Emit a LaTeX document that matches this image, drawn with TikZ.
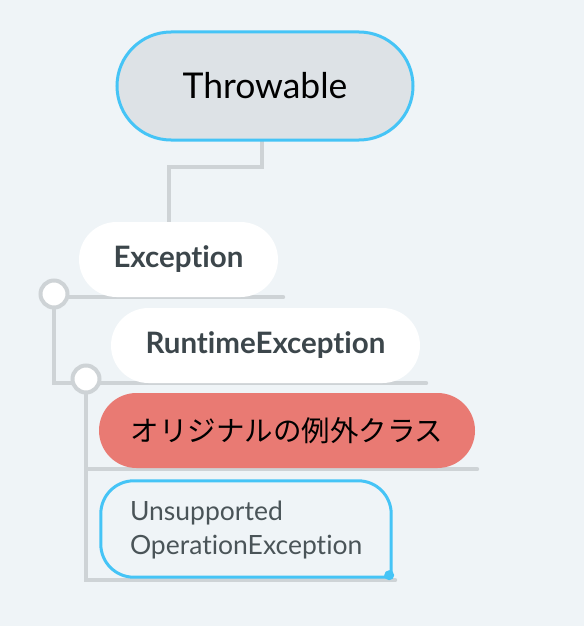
\documentclass[tikz,border=0pt]{standalone}
\usepackage{fontspec}
\setmainfont{Lato}[Ligatures=NoCommon]
\newfontfamily\jpfont{Noto Sans CJK JP}
\usetikzlibrary{positioning,backgrounds}
\definecolor{bgcol}{HTML}{EFF4F7}
\definecolor{linecol}{HTML}{CED3D6}
\definecolor{bluecol}{HTML}{45C4F6}
\definecolor{rootfill}{HTML}{DDE2E6}
\definecolor{redfill}{HTML}{E97A73}
\definecolor{textcol}{HTML}{3C464B}
\definecolor{softtext}{HTML}{4A5458}
\tikzset{
	pill/.style={rectangle,inner sep=0pt,minimum height=75,rounded corners=37.5},
	conn/.style={draw=linecol,line width=4,line cap=round},
	knot/.style={circle,fill=white,draw=linecol,line width=4,minimum size=27,inner sep=0pt},
}
\begin{document}
\begin{tikzpicture}[x=1pt,y=-1pt]
\useasboundingbox (0,0) rectangle (584,626);
\node[pill,fill=rootfill,draw=bluecol,line width=3,minimum width=296,minimum height=108,rounded corners=54,
	font=\fontsize{35.5}{42}\selectfont,text=black] (root) at (265,86) {Throwable};
\node[pill,fill=white,minimum width=199,font=\fontsize{29.5}{34}\selectfont\bfseries,text=textcol] (exc) at (178.5,259.5) {Exception};
\node[pill,fill=white,minimum width=309,font=\fontsize{29.5}{34}\selectfont\bfseries,text=textcol] (rt) at (265.5,345.5) {RuntimeException};
\node[pill,fill=redfill,minimum width=376,font=\fontsize{28.5}{34}\selectfont\jpfont,text=black] (own) at (287,430.5) {オリジナルの例外クラス};
\node[minimum width=290,minimum height=96,inner sep=0pt] (unsup) at (246,529) {};
\node[anchor=west,align=left,inner sep=0pt,font=\fontsize{26.5}{34}\selectfont,text=softtext] (unsuptext) at ([xshift=29,yshift=-1]unsup.west) {Unsupported\\OperationException};
\draw[bluecol,line width=3] (unsup.south east) [rounded corners=33] -- (unsup.north east) -- (unsup.north west)
	-- (unsup.south west) -- (unsup.south east);
\fill[bluecol] ([shift={(-2,-2)}]unsup.south east) circle (5);
\node[knot] (k1) at (54,294) {};
\node[knot] (k2) at (86,379) {};
\begin{pgfonlayer}{background}
\fill[bgcol] (0,0) rectangle (584,626);
\draw[conn] ([xshift=-3]root.south) |- ++(-40,25) -| ([xshift=-9.5]exc.north);
\draw[conn] (k1.center |- exc.south) -- ([xshift=5]exc.south east);
\draw[conn] (k1) |- ([xshift=6]rt.south east);
\draw[conn] (k2) |- ([shift={(2,1)}]own.south east);
\draw[conn] (k2) |- ([shift={(4,3)}]unsup.south east);
\end{pgfonlayer}
\end{tikzpicture}
\end{document}
